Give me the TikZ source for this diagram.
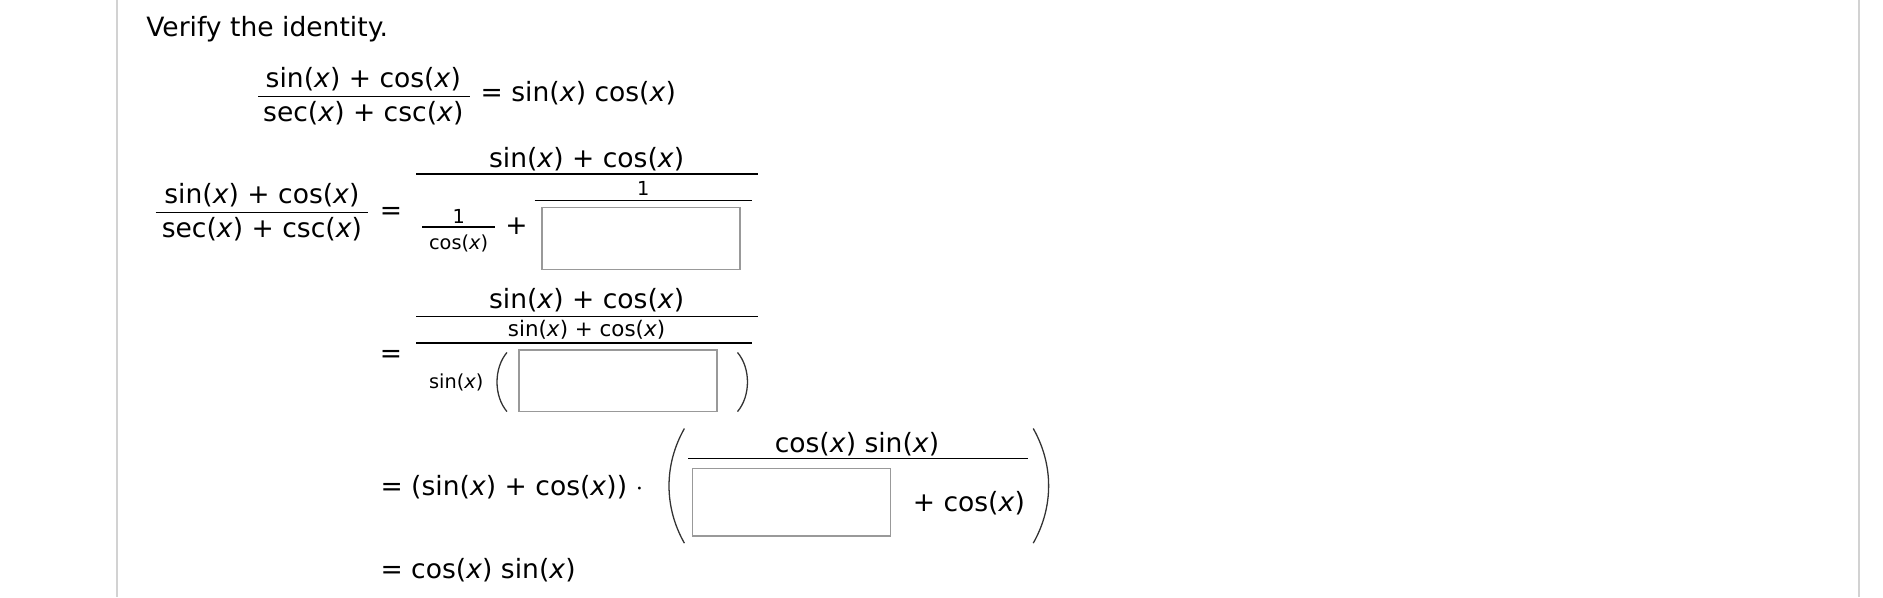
\documentclass[tikz,border=0pt]{standalone}
\usepackage{fontspec}
\setmainfont{DejaVu Sans}
\newcommand{\xv}{\textit{x}}
\begin{document}
\begin{tikzpicture}[x=0.75pt,y=-0.75pt,
  t/.style={inner sep=0pt,font=\fontsize{16.5}{19}\selectfont},
  s/.style={inner sep=0pt,font=\fontsize{13.3}{15}\selectfont},
  ss/.style={inner sep=0pt,font=\fontsize{12}{14}\selectfont},
  bar/.style={line width=0.9pt},
  box/.style={draw=gray!80,line width=0.8pt},
  frame/.style={draw=gray!35,line width=0.8pt},
  par/.style={line width=0.8pt,draw=black!80}]
\useasboundingbox (0,0) rectangle (1560,495);
\draw[frame] (97,0) coordinate (fa) -- (97,495) coordinate (fb);
\draw[frame] (1540,0) coordinate (fc) -- (1540,495) coordinate (fd);
\node[t,anchor=west] (title) at (121,24) {Verify the identity.};
% line 1
\node[t] (n1) at (301,66) {sin(\xv) + cos(\xv)};
\draw[bar] (214,80) coordinate (b1a) -- (389,80) coordinate (b1b);
\node[t] (d1) at (301,94) {sec(\xv) + csc(\xv)};
\node[t,anchor=west] (r1) at (398,77) {= sin(\xv) cos(\xv)};
% line 2
\node[t] (n2) at (217,162) {sin(\xv) + cos(\xv)};
\draw[bar] (129,176) coordinate (b2a) -- (305,176) coordinate (b2b);
\node[t] (d2) at (217,190) {sec(\xv) + csc(\xv)};
\node[t] (eq2) at (324,177) {=};
\node[t] (N2) at (486,132) {sin(\xv) + cos(\xv)};
\draw[bar] (345,144) coordinate (B2a) -- (628,144) coordinate (B2b);
\node[ss] (one1) at (380,179) {1};
\draw[bar] (350,188) coordinate (c1a) -- (410,188) coordinate (c1b);
\node[ss] (cos1) at (380,202) {cos(\xv)};
\node[t] (plus2) at (428,187) {+};
\node[ss] (one2) at (533,156) {1};
\draw[bar] (443,166) coordinate (c2a) -- (623,166) coordinate (c2b);
\draw[box] (449,172) rectangle (613,223);
% line 3
\node[t] (eq3) at (324,295) {=};
\node[t] (N3) at (486,249) {sin(\xv) + cos(\xv)};
\draw[bar] (345,262) coordinate (B3a) -- (628,262) coordinate (B3b);
\node[s] (n3s) at (486,273) {sin(\xv) + cos(\xv)};
\draw[bar] (345,284) coordinate (c3a) -- (623,284) coordinate (c3b);
\node[ss] (sin3) at (378,317) {sin(\xv)};
\draw[par] (420,292) coordinate (p1a) .. controls (409,305) and (409,328) .. (420,341) coordinate (p1b);
\draw[box] (430,290) rectangle (594,341);
\draw[par] (611,292) coordinate (p2a) .. controls (622,305) and (622,328) .. (611,341) coordinate (p2b);
% line 4
\node[t,anchor=west] (l4) at (315,404) {= (sin(\xv) + cos(\xv)) ${\cdot}$};
\draw[par] (567,355) coordinate (q1a) .. controls (550,385) and (550,420) .. (567,450) coordinate (q1b);
\node[t] (N4) at (710,368) {cos(\xv) sin(\xv)};
\draw[bar] (570,380) coordinate (B4a) -- (852,380) coordinate (B4b);
\draw[box] (574,388) rectangle (738,444);
\node[t,anchor=west] (pc) at (756,417) {+ cos(\xv)};
\draw[par] (856,355) coordinate (q2a) .. controls (873,385) and (873,420) .. (856,450) coordinate (q2b);
% line 5
\node[t,anchor=west] (l5) at (315,472) {= cos(\xv) sin(\xv)};
\end{tikzpicture}
\end{document}
